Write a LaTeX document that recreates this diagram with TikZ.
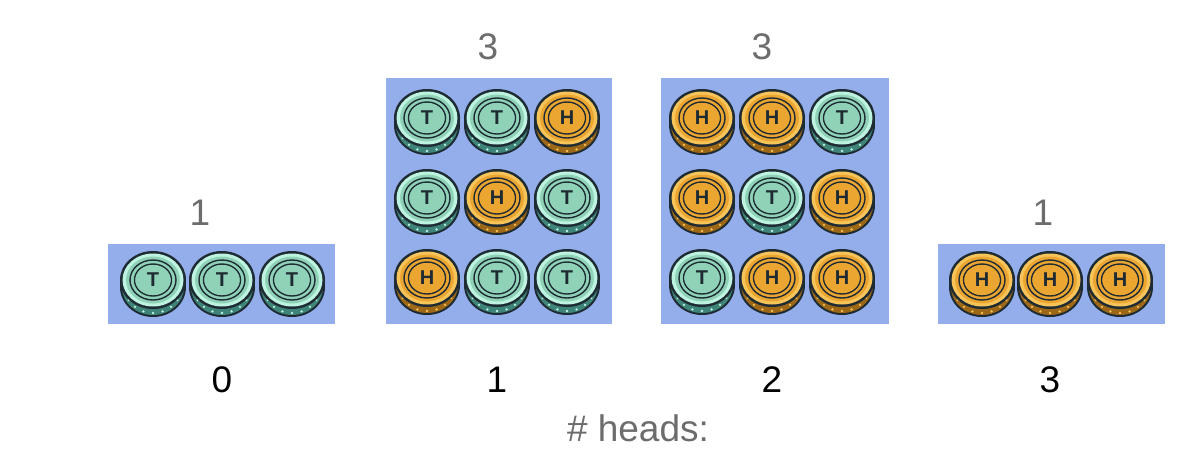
\documentclass[tikz,border=0pt]{standalone}
\usepackage{fontspec}
\setmainfont{Liberation Sans}
\begin{document}
\begin{tikzpicture}[x=1pt,y=-1pt,
  box/.style={fill=boxblue,draw=none},
  cnt/.style={text=gray!85!black,font=\fontsize{37}{40}\selectfont},
  num/.style={text=black,font=\fontsize{37}{40}\selectfont},
  coin/.pic={
    \fill[outl] (0,5) ellipse (33 and 30);
    \fill[#1dark] (0,5) ellipse (31 and 28);
    \foreach \a in {-150,-130,...,-30}{\fill[#1light] ({28*cos(\a)},{5-26*sin(\a)}) circle (1.3);}
    \fill[outl] (0,-2) ellipse (33 and 29);
    \fill[#1light] (0,-2) ellipse (30.5 and 26.5);
    \fill[#1face] (0,-2) ellipse (27 and 23.5);
    \draw[outl,line width=1.4] (0,-2) ellipse (23 and 20);
    \draw[outl,line width=1.4] (0,-2) ellipse (18.5 and 16);
    \fill[#1face] (0,-2) ellipse (17.5 and 15);
    \node[font=\bfseries\fontsize{20}{20}\selectfont,text=outl] at (0,-2) {\csname coinlbl#1\endcsname};
  }]
\definecolor{boxblue}{HTML}{94AEEB}
\definecolor{outl}{HTML}{1E2B33}
\definecolor{tface}{HTML}{8FD2B7}
\definecolor{tlight}{HTML}{BDF3E0}
\definecolor{tdark}{HTML}{3F8478}
\definecolor{hface}{HTML}{EBA531}
\definecolor{hlight}{HTML}{F7C45A}
\definecolor{hdark}{HTML}{9C6716}
\def\coinlblt{T}\def\coinlblh{H}
\useasboundingbox[fill=white] (0,0) rectangle (1180,453);
\fill[box] (108,244) rectangle (335,324);
\fill[box] (386,78) rectangle (612,324);
\fill[box] (661,78) rectangle (889,324);
\fill[box] (938,244) rectangle (1165,324);
\foreach \x in {153,222,292} \pic at (\x,282) {coin=t};
\foreach \x/\y/\c in {427/120/t,497/120/t,567/120/h,427/200/t,497/200/h,567/200/t,427/280/h,497/280/t,567/280/t}
  \pic at (\x,\y) {coin=\c};
\foreach \x/\y/\c in {702/120/h,772/120/h,842/120/t,702/200/h,772/200/t,842/200/h,702/280/t,772/280/h,842/280/h}
  \pic at (\x,\y) {coin=\c};
\foreach \x in {982,1050,1120} \pic at (\x,282) {coin=h};
\node[cnt] (c0) at (200,213) {1};
\node[cnt] (c1) at (488,47) {3};
\node[cnt] (c2) at (762,47) {3};
\node[cnt] (c3) at (1043,213) {1};
\node[num] (n0) at (222,380) {0};
\node[num] (n1) at (497,380) {1};
\node[num] (n2) at (772,380) {2};
\node[num] (n3) at (1050,380) {3};
\node[cnt] (lab) at (638,428) {\# heads:};
\end{tikzpicture}
\end{document}
